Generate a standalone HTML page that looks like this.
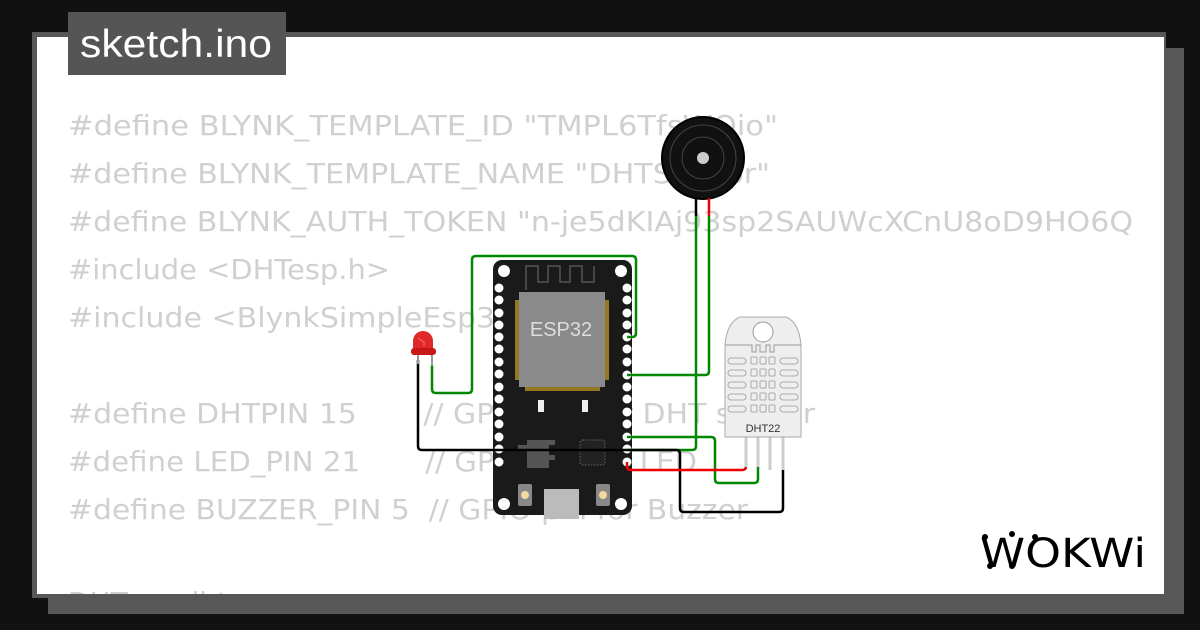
<!DOCTYPE html>
<html><head><meta charset="utf-8"><style>
html,body{margin:0;padding:0;background:#111;width:1200px;height:630px;overflow:hidden}
svg{display:block}
</style></head><body>
<svg width="1200" height="630" viewBox="0 0 1200 630" xmlns="http://www.w3.org/2000/svg" font-family="Liberation Sans, DejaVu Sans, sans-serif">
<rect width="1200" height="630" fill="#111"/>
<rect x="48" y="48" width="1136" height="566" fill="#575757"/>
<rect x="32" y="32" width="1134" height="566" fill="#575757"/>
<rect x="37" y="37" width="1127" height="557" fill="#fff"/>
<clipPath id="cp"><rect x="37" y="37" width="1127" height="557"/></clipPath>
<g clip-path="url(#cp)" fill="#d0d0d0" font-size="28" font-family="DejaVu Sans, sans-serif">
<text x="68" y="135" textLength="710" lengthAdjust="spacingAndGlyphs">#define BLYNK_TEMPLATE_ID "TMPL6TfsWQio"</text>
<text x="68" y="183" textLength="702" lengthAdjust="spacingAndGlyphs">#define BLYNK_TEMPLATE_NAME "DHTSensor"</text>
<text x="68" y="231" textLength="1065" lengthAdjust="spacingAndGlyphs">#define BLYNK_AUTH_TOKEN "n-je5dKIAj93sp2SAUWcXCnU8oD9HO6Q</text>
<text x="68" y="279" textLength="322" lengthAdjust="spacingAndGlyphs">#include &lt;DHTesp.h&gt;</text>
<text x="68" y="327" textLength="500" lengthAdjust="spacingAndGlyphs">#include &lt;BlynkSimpleEsp32.h&gt;</text>
<text x="68" y="423" textLength="747" lengthAdjust="spacingAndGlyphs" xml:space="preserve">#define DHTPIN 15       // GPIO pin for DHT sensor</text>
<text x="68" y="471" textLength="629" lengthAdjust="spacingAndGlyphs" xml:space="preserve">#define LED_PIN 21       // GPIO pin for LED</text>
<text x="68" y="519" textLength="680" lengthAdjust="spacingAndGlyphs" xml:space="preserve">#define BUZZER_PIN 5  // GPIO pin for Buzzer</text>
<text x="68" y="612">DHTesp dht;</text>
</g>
<rect x="68" y="12" width="218" height="63" fill="#555"/>
<text x="80" y="57" font-size="39" fill="#fff" textLength="192" lengthAdjust="spacingAndGlyphs">sketch.ino</text>

<!-- ESP32 board -->
<rect x="493" y="260" width="139" height="255" rx="9" fill="#1a1a1a"/>
<path d="M526 290 V266 H538 V282 H548 V266 H560 V282 H570 V266 H582 V282 H594 V266" fill="none" stroke="#555" stroke-width="1.5"/>
<rect x="519" y="292" width="86" height="95" fill="#8a8a8a"/>
<text x="561" y="336" font-size="20" fill="#ddd" text-anchor="middle">ESP32</text>
<g fill="#c9a227">
<rect x="515" y="300" width="4" height="80" opacity="0.7"/>
<rect x="605" y="300" width="4" height="80" opacity="0.7"/>
<rect x="525" y="387" width="75" height="4" opacity="0.7"/>
</g>
<rect x="538" y="400" width="6" height="12" fill="#eee"/>
<rect x="582" y="400" width="6" height="12" fill="#eee"/>
<g fill="#fff">
<circle cx="504" cy="271" r="6"/><circle cx="621" cy="271" r="6"/>
<circle cx="504" cy="504" r="6"/><circle cx="621" cy="504" r="6"/>
</g>
<g fill="#fff">
<circle cx="499" cy="288" r="4.5"/><circle cx="499" cy="300" r="4.5"/><circle cx="499" cy="313" r="4.5"/><circle cx="499" cy="325" r="4.5"/><circle cx="499" cy="337" r="4.5"/><circle cx="499" cy="349" r="4.5"/><circle cx="499" cy="362" r="4.5"/><circle cx="499" cy="374" r="4.5"/><circle cx="499" cy="387" r="4.5"/><circle cx="499" cy="399" r="4.5"/><circle cx="499" cy="412" r="4.5"/><circle cx="499" cy="424" r="4.5"/><circle cx="499" cy="437" r="4.5"/><circle cx="499" cy="449" r="4.5"/><circle cx="499" cy="462" r="4.5"/>
<circle cx="627" cy="288" r="4.5"/><circle cx="627" cy="300" r="4.5"/><circle cx="627" cy="313" r="4.5"/><circle cx="627" cy="325" r="4.5"/><circle cx="627" cy="337" r="4.5"/><circle cx="627" cy="349" r="4.5"/><circle cx="627" cy="362" r="4.5"/><circle cx="627" cy="375" r="4.5"/><circle cx="627" cy="387" r="4.5"/><circle cx="627" cy="399" r="4.5"/><circle cx="627" cy="412" r="4.5"/><circle cx="627" cy="424" r="4.5"/><circle cx="627" cy="437" r="4.5"/><circle cx="627" cy="449" r="4.5"/><circle cx="627" cy="462" r="4.5"/>
</g>
<rect x="527" y="440" width="22" height="28" fill="#555"/>
<rect x="518" y="445" width="9" height="6" fill="#555"/>
<rect x="549" y="440" width="6" height="5" fill="#555"/><rect x="549" y="455" width="6" height="5" fill="#555"/>
<rect x="580" y="440" width="25" height="25" rx="3" fill="#222" stroke="#666" stroke-dasharray="1.5 1.5"/>
<rect x="518" y="484" width="14" height="22" rx="2" fill="#888"/><circle cx="525" cy="495" r="4" fill="#f5d9a0"/>
<rect x="596" y="484" width="14" height="22" rx="2" fill="#888"/><circle cx="603" cy="495" r="4" fill="#f5d9a0"/>
<rect x="544" y="489" width="35" height="30" fill="#bbb"/>

<!-- Buzzer -->
<circle cx="703" cy="158" r="41" fill="#111" stroke="#000" stroke-width="2"/>
<circle cx="703" cy="158" r="33" fill="none" stroke="#444" stroke-width="1"/>
<circle cx="703" cy="158" r="21" fill="none" stroke="#444" stroke-width="1"/>
<circle cx="703" cy="158" r="6" fill="#ccc"/>

<!-- Wires -->
<g fill="none" stroke-width="2.5" stroke-linejoin="round">
<path d="M696 198 V216" stroke="#000"/>
<path d="M709 198 V216" stroke="#e00"/>
<path d="M696 216 V446 Q696 450 692 450 H627" stroke="#080"/>
<path d="M709 216 V371 Q709 375 705 375 H627" stroke="#080"/>
<path d="M432 365 V389 Q432 393 436 393 H468 Q472 393 472 389 V260 Q472 256 476 256 H632 Q636 256 636 260 V333 Q636 337 632 337 H627" stroke="#080"/>
<path d="M418 360 V446 Q418 450 422 450 H676 Q680 450 680 454 V508 Q680 512 684 512 H779 Q783 512 783 508 V470" stroke="#000"/>
<path d="M627 437 H711 Q715 437 715 441 V479 Q715 483 719 483 H754 Q758 483 758 479 V466" stroke="#080"/>
<path d="M627 462 V466 Q627 470 631 470 H742 Q746 470 746 466 V464" stroke="#e00"/>
</g>

<!-- LED -->
<path d="M418 350 V364" stroke="#999" stroke-width="2"/>
<path d="M428 350 L432 356 V366" stroke="#999" stroke-width="2" fill="none"/>
<path d="M413 353 V341 A10 10 0 0 1 433 341 V353 Z" fill="#e02828"/>
<rect x="411" y="348" width="25" height="7" rx="3" fill="#c81818"/>
<path d="M418 338 L424 342 V346" stroke="#f07070" stroke-width="1" fill="none"/>

<!-- DHT22 -->
<g stroke="#ccc" stroke-width="3"><path d="M746 437 V467 M758 437 V467 M770 437 V470 M783 437 V470"/></g>
<path d="M725 345 Q727 322 740 317 H786 Q799 322 801 345 V437 H725 Z" fill="#eee" stroke="#aaa" stroke-width="1"/>
<circle cx="763" cy="332" r="10" fill="#fff" stroke="#999"/>
<path d="M725 345 H752 V352 H756 V345 H760 V352 H766 V345 H770 V352 H774 V345 H801" fill="none" stroke="#999" stroke-width="1"/>
<g fill="none" stroke="#aaa" stroke-width="1">
<rect x="728" y="358" width="18" height="6" rx="3"/><rect x="780" y="358" width="18" height="6" rx="3"/>
<rect x="728" y="370" width="18" height="6" rx="3"/><rect x="780" y="370" width="18" height="6" rx="3"/>
<rect x="728" y="382" width="18" height="6" rx="3"/><rect x="780" y="382" width="18" height="6" rx="3"/>
<rect x="728" y="394" width="18" height="6" rx="3"/><rect x="780" y="394" width="18" height="6" rx="3"/>
<rect x="728" y="406" width="18" height="6" rx="3"/><rect x="780" y="406" width="18" height="6" rx="3"/>
<rect x="751" y="357" width="6" height="7" rx="1"/><rect x="760" y="357" width="6" height="7" rx="1"/><rect x="769" y="357" width="6" height="7" rx="1"/>
<rect x="751" y="369" width="6" height="7" rx="1"/><rect x="760" y="369" width="6" height="7" rx="1"/><rect x="769" y="369" width="6" height="7" rx="1"/>
<rect x="751" y="381" width="6" height="7" rx="1"/><rect x="760" y="381" width="6" height="7" rx="1"/><rect x="769" y="381" width="6" height="7" rx="1"/>
<rect x="751" y="393" width="6" height="7" rx="1"/><rect x="760" y="393" width="6" height="7" rx="1"/><rect x="769" y="393" width="6" height="7" rx="1"/>
<rect x="751" y="405" width="6" height="7" rx="1"/><rect x="760" y="405" width="6" height="7" rx="1"/><rect x="769" y="405" width="6" height="7" rx="1"/>
</g>
<text x="763" y="432" font-size="11" fill="#333" text-anchor="middle">DHT22</text>

<!-- Wokwi logo -->
<text x="980" y="567" font-size="40" fill="#000" font-family="DejaVu Sans, sans-serif" textLength="166" lengthAdjust="spacingAndGlyphs">WOKWi</text>
<g fill="#000"><circle cx="985" cy="537" r="3"/><circle cx="1012" cy="534" r="3"/><circle cx="1035" cy="537" r="3"/><circle cx="990" cy="566" r="3"/><circle cx="1012" cy="566" r="3"/></g>
</svg>
</body></html>
